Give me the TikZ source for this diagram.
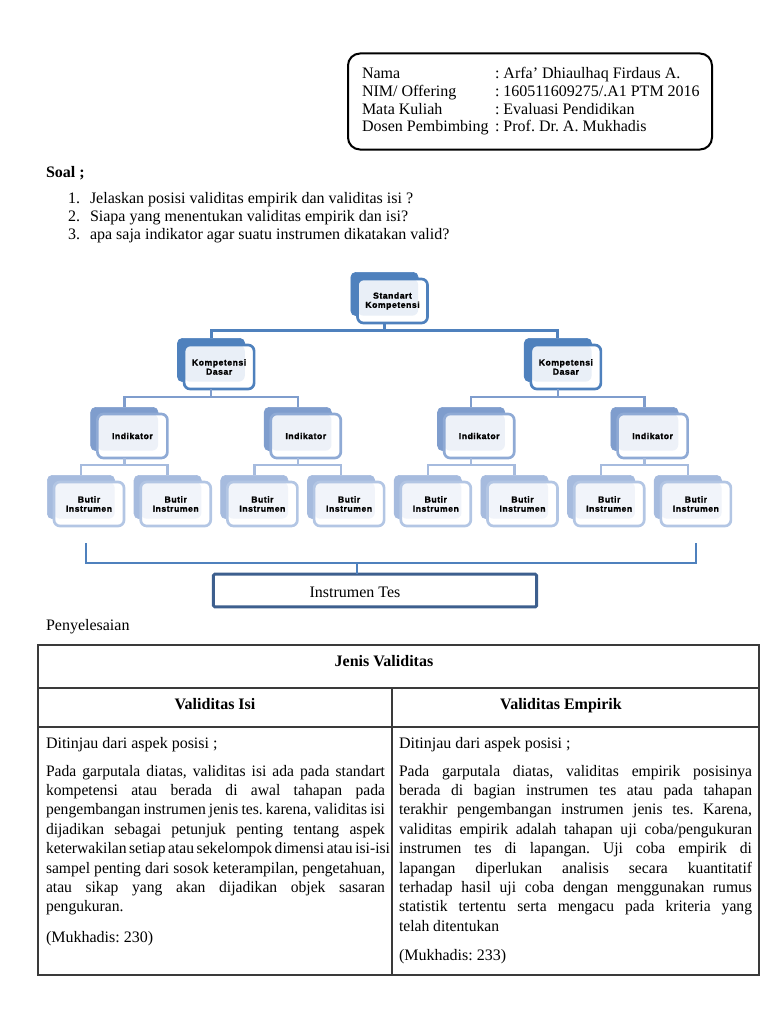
\documentclass[tikz,border=0pt]{standalone}
\usepackage{fontspec}
\setmainfont{Liberation Serif}
\newfontfamily\nodefont{Liberation Sans}[LetterSpace=6, BoldFont={Liberation Sans Bold}, BoldFeatures={FakeBold=1.5}]
\newfontfamily\tblfont{Liberation Serif}[FakeStretch=0.975]
\definecolor{cA}{HTML}{4F81BD}
\definecolor{cB}{HTML}{7F9DCD}
\definecolor{cBb}{HTML}{8FAAD5}
\definecolor{cC}{HTML}{A6BBDE}
\definecolor{cCb}{HTML}{B3C6E4}
\definecolor{tint1}{HTML}{E9EFF7}
\definecolor{tint2}{HTML}{EDF1F8}
\definecolor{tint3}{HTML}{F1F4FA}
\definecolor{boxc}{HTML}{3D5F8E}
\definecolor{tabc}{HTML}{3A3A3A}
\newcommand\jl[1]{\makebox[\linewidth][s]{#1}\\}
\newcommand\mktnode[5]{%
  \node[back#4] (#1b) at (#2,#3+22) {};
  \node[front#4, path picture={\fill[tint#4] (path picture bounding box.north west) rectangle (#1b.south east);}] (#1) at (#2+8,#3+29) {#5};
}
\begin{document}
\frenchspacing
\begin{tikzpicture}[x=0.75pt,y=-0.75pt,
  txt/.style={font=\fontsize{12pt}{14.55pt}\selectfont, inner sep=0pt, outer sep=0pt},
  backbase/.style={rounded corners=3.75pt, minimum width=50.5pt, minimum height=32.5pt, inner sep=0pt, outer sep=0pt, line width=0.5pt},
  frontbase/.style={fill=white, rounded corners=4.5pt,
     minimum width=52.5pt, minimum height=33pt, inner sep=0pt, outer sep=0pt, line width=2pt,
     align=center, font=\nodefont\bfseries\fontsize{6.5pt}{6.9pt}\selectfont},
  back1/.style={backbase, draw=cA, fill=cA},
  back2/.style={backbase, draw=cB, fill=cB},
  back3/.style={backbase, draw=cC, fill=cC},
  front1/.style={frontbase, draw=cA},
  front2/.style={frontbase, draw=cBb},
  front3/.style={frontbase, draw=cCb},
  con1/.style={draw=cA, line width=2.25pt},
  con2/.style={draw=cB, line width=1.9pt},
  con3/.style={draw=cC, line width=1.9pt},
  tline/.style={draw=tabc, line width=0.8pt}
]
\useasboundingbox (0,0) rectangle (768,1024);

% header box
\node[draw=black, line width=1.5pt, rounded corners=9pt, minimum width=273pt, minimum height=72pt, inner sep=0pt] (hdr) at (530,101.5) {};
\node[txt, anchor=base west] (l1) at (362,79) {Nama};
\node[txt, anchor=base west] (l2) at (362,96.5) {NIM/ Offering};
\node[txt, anchor=base west] (l3) at (362,114) {Mata Kuliah};
\node[txt, anchor=base west] (l4) at (362,131.5) {Dosen Pembimbing};
\node[txt, anchor=base west] (v1) at (495,79) {: Arfa' Dhiaulhaq Firdaus A.};
\node[txt, anchor=base west] (v2) at (495,96.5) {: 160511609275/.A1 PTM 2016};
\node[txt, anchor=base west] (v3) at (495,114) {: Evaluasi Pendidikan};
\node[txt, anchor=base west] (v4) at (495,131.5) {: Prof. Dr. A. Mukhadis};

% questions
\node[txt, anchor=base west] (soal) at (46,177) {\bfseries Soal ;};
\node[txt, anchor=base west] (n1) at (68,203.5) {1.};
\node[txt, anchor=base west] (n2) at (68,221.5) {2.};
\node[txt, anchor=base west] (n3) at (68,239.5) {3.};
\node[txt, anchor=base west] (q1) at (90,203.5) {Jelaskan posisi validitas empirik dan validitas isi ?};
\node[txt, anchor=base west] (q2) at (90,221.5) {Siapa yang menentukan validitas empirik dan isi?};
\node[txt, anchor=base west] (q3) at (90,239.5) {apa saja indikator agar suatu instrumen dikatakan valid?};

% hierarchy
\mktnode{sk}{384.5}{272}{1}{Standart\\Kompetensi}
\mktnode{kda}{211.1}{338}{1}{Kompetensi\\Dasar}
\mktnode{kdb}{557.9}{338}{1}{Kompetensi\\Dasar}
\mktnode{ia}{124.4}{407}{2}{Indikator}
\mktnode{ib}{297.8}{407}{2}{Indikator}
\mktnode{ic}{471.2}{407}{2}{Indikator}
\mktnode{id}{644.6}{407}{2}{Indikator}
\mktnode{ba}{81}{475}{3}{Butir\\Instrumen}
\mktnode{bb}{167.7}{475}{3}{Butir\\Instrumen}
\mktnode{bc}{254.4}{475}{3}{Butir\\Instrumen}
\mktnode{bd}{341.1}{475}{3}{Butir\\Instrumen}
\mktnode{be}{427.8}{475}{3}{Butir\\Instrumen}
\mktnode{bf}{514.5}{475}{3}{Butir\\Instrumen}
\mktnode{bg}{601.2}{475}{3}{Butir\\Instrumen}
\mktnode{bh}{687.9}{475}{3}{Butir\\Instrumen}

\draw[con1] (skb |- sk.south) -- ++(0,7) -| (kdab.north);
\draw[con1] (skb |- sk.south) -- ++(0,7) -| (kdbb.north);
\draw[con2] (kdab |- kda.south) -- ++(0,8) -| (iab.north);
\draw[con2] (kdab |- kda.south) -- ++(0,8) -| (ibb.north);
\draw[con2] (kdbb |- kdb.south) -- ++(0,8) -| (icb.north);
\draw[con2] (kdbb |- kdb.south) -- ++(0,8) -| (idb.north);
\draw[con3] (iab |- ia.south) -- ++(0,7) -| (bab.north);
\draw[con3] (iab |- ia.south) -- ++(0,7) -| (bbb.north);
\draw[con3] (ibb |- ib.south) -- ++(0,7) -| (bcb.north);
\draw[con3] (ibb |- ib.south) -- ++(0,7) -| (bdb.north);
\draw[con3] (icb |- ic.south) -- ++(0,7) -| (beb.north);
\draw[con3] (icb |- ic.south) -- ++(0,7) -| (bfb.north);
\draw[con3] (idb |- id.south) -- ++(0,7) -| (bgb.north);
\draw[con3] (idb |- id.south) -- ++(0,7) -| (bhb.north);

% bracket and Instrumen Tes
\coordinate (brl) at (86,543);
\coordinate (brr) at (696,543);
\coordinate (brm) at (357,563);
\draw[draw=cA, line width=1.2pt] (brl) -- ++(0,20) -| (brr);
\node[draw=boxc, line width=2.2pt, rounded corners=1pt, minimum width=242.5pt, minimum height=24.5pt, inner sep=0pt, outer sep=0pt] (it) at (375,590.5) {};
\draw[draw=cA, line width=1.2pt] (brm) -- (brm |- it.north);
\node[txt, anchor=base] (itl) at (355,597) {Instrumen Tes};

\node[txt, anchor=base west] (peny) at (46,630) {Penyelesaian};

% table
\draw[tline] (38,645) rectangle (759,975);
\draw[tline] (38,688) -- (759,688);
\draw[tline] (38,727) -- (759,727);
\draw[tline] (392,688) -- (392,975);

\node[txt, anchor=base] (th) at (384,666) {\bfseries Jenis Validitas};
\node[txt, anchor=base] (tha) at (215,709) {\bfseries Validitas Isi};
\node[txt, anchor=base] (thb) at (561,709) {\bfseries Validitas Empirik};

\node[txt, anchor=base west] (da) at (46,748) {Ditinjau dari aspek posisi ;};
\node[txt, anchor=base west] (db) at (399,748) {Ditinjau dari aspek posisi ;};

\node[txt, anchor=base west] (pa) at (46,776) {\parbox[t]{254.25pt}{\tblfont\fontsize{12pt}{14.55pt}\selectfont\frenchspacing
\jl{Pada garputala diatas, validitas isi ada pada standart}
\jl{kompetensi atau berada di awal tahapan pada}
\jl{pengembangan instrumen jenis tes. karena, validitas isi}
\jl{dijadikan sebagai petunjuk penting tentang aspek}
\jl{keterwakilan setiap atau sekelompok dimensi atau isi-isi}
\jl{sampel penting dari sosok keterampilan, pengetahuan,}
\jl{atau sikap yang akan dijadikan objek sasaran}
pengukuran.}};

\node[txt, anchor=base west] (pb) at (399,776) {\parbox[t]{264.75pt}{\tblfont\fontsize{12pt}{14.55pt}\selectfont\frenchspacing
\jl{Pada garputala diatas, validitas empirik posisinya}
\jl{berada di bagian instrumen tes atau pada tahapan}
\jl{terakhir pengembangan instrumen jenis tes. Karena,}
\jl{validitas empirik adalah tahapan uji coba/pengukuran}
\jl{instrumen tes di lapangan. Uji coba empirik di}
\jl{lapangan diperlukan analisis secara kuantitatif}
\jl{terhadap hasil uji coba dengan menggunakan rumus}
\jl{statistik tertentu serta mengacu pada kriteria yang}
telah ditentukan}};

\node[txt, anchor=base west] (ma) at (46,942) {(Mukhadis: 230)};
\node[txt, anchor=base west] (mb) at (399,960) {(Mukhadis: 233)};
\end{tikzpicture}
\end{document}
